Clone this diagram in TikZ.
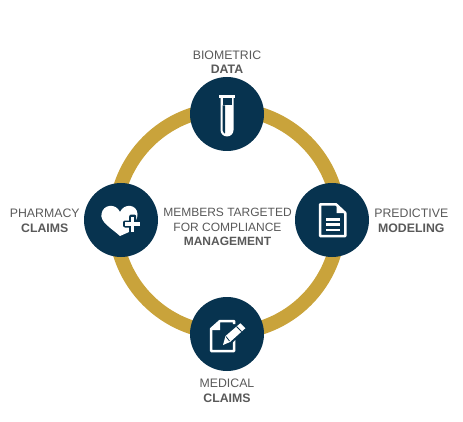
\documentclass[tikz,border=0pt]{standalone}
\usepackage{fontspec}
\setmainfont{Liberation Sans}
\usetikzlibrary{positioning}
\definecolor{HUB}{HTML}{07334F}
\definecolor{RING}{HTML}{C9A33B}
\definecolor{LBL}{HTML}{595959}
\tikzset{
  hub/.style={circle,fill=HUB,minimum size=74pt,inner sep=0pt},
  lbl/.style={text=LBL,font=\fontsize{12.3}{14.5}\selectfont,align=center,inner sep=0pt},
  glyph/.style={white,line width=2.500pt,line join=round}
}
\begin{document}
\begin{tikzpicture}[x=1pt,y=1pt]
  \useasboundingbox (0,0) rectangle (463,421);
  \coordinate (mid) at (227,200);
  \draw[RING,line width=14pt] (mid) circle (112);
  % four hubs
  \node[hub] (bio) at (227,307) {};
  \node[hub] (pha) at (121,201) {};
  \node[hub] (pre) at (332,201) {};
  \node[hub] (med) at (227,87) {};
  % labels
  \node[lbl,above=3pt of bio] (biotxt) {BIOMETRIC\\\textbf{DATA}};
  \node[lbl,left=4pt of pha,yshift=-1pt] (phatxt) {PHARMACY\\\textbf{CLAIMS}};
  \node[lbl,right=5pt of pre,yshift=-1pt] (pretxt) {PREDICTIVE\\\textbf{MODELING}};
  \node[lbl,below=8pt of med] (medtxt) {MEDICAL\\\textbf{CLAIMS}};
  \node[lbl,font=\fontsize{12}{14.5}\selectfont] (core) at (227.5,194) {MEMBERS TARGETED\\FOR COMPLIANCE\\\textbf{MANAGEMENT}};
  % test tube
  \begin{scope}[shift={(bio)}]
    \fill[white] (-8,19) rectangle (8,16);
    \fill[white] (-6.500,17) -- (-6.500,-16) arc[start angle=180,end angle=360,radius=6.500] -- (6.500,17) -- cycle;
    \fill[HUB] (-4.500,16) rectangle (4.500,8.500);
    \fill[HUB] (-4.500,8.500) -- (-4.500,-16) arc[start angle=180,end angle=230,radius=4.500] -- (-2,-19) -- (-2,8.500) -- cycle;
  \end{scope}
  % heart with plus
  \begin{scope}[shift={(pha)}]
    \fill[white] (-1,-16) .. controls (-10,-8) and (-21,-2) .. (-19.500,6)
      .. controls (-18,16) and (-5,17) .. (-1,8)
      .. controls (3,17) and (16,16) .. (16.500,6)
      .. controls (16.500,2) and (15,0) .. (14,-2) -- (8,-12) -- cycle;
    \fill[HUB,rounded corners=2pt] (2,-0.500) rectangle (21.500,-7.500);
    \fill[HUB,rounded corners=2pt] (8.200,-13.500) rectangle (15.200,5.500);
    \draw[white,line width=3.500pt] (4.200,-4) -- (19.300,-4) (11.700,-11.700) -- (11.700,3.500);
  \end{scope}
  % document
  \begin{scope}[shift={(pre)}]
    \draw[glyph] (-12,15.700) -- (4,15.700) -- (13.300,7) -- (13.300,-16) -- (-12,-16) -- cycle;
    \fill[white] (4.500,15) -- (4.500,7) -- (13,7) -- cycle;
    \foreach \y in {0.700,-4.300,-10}{
      \fill[white] (-6,\y+1.300) rectangle (7.700,\y-1.300);
    }
  \end{scope}
  % note with pencil
  \begin{scope}[shift={(med)}]
    \draw[glyph] (7,-6) -- (7,-17) -- (-16,-17) -- (-16,5) -- (-7,13) -- (7,13) -- (7,10);
    \fill[white] (-7,13) -- (-7,4) -- (-16,4) -- cycle;
    \fill[HUB] (-6,-12) -- (-3.500,-1) -- (13.300,13) -- (20.500,5.700) -- (4,-10) -- cycle;
    \fill[white] (-4,-11) -- (-1.500,-2) -- (13.300,10.700) -- (18.300,5.700) -- (3,-8) -- cycle;
    \draw[HUB,line width=1pt] (9.500,7.500) -- (14.500,2.500);
    \draw[HUB,line width=0.800pt] (-1,-2.500) -- (2.500,-7);
  \end{scope}
\end{tikzpicture}
\end{document}
